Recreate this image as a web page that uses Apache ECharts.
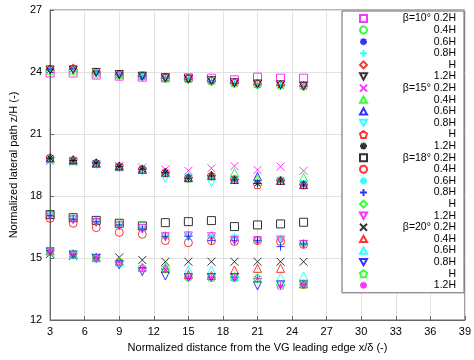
<!DOCTYPE html>
<html>
<head>
<meta charset="utf-8">
<script src="https://cdn.jsdelivr.net/npm/echarts@6/dist/echarts.min.js"></script>
<style>
  html, body { margin: 0; padding: 0; background: #fff; }
  #chart { width: 474px; height: 360px; }
</style>
</head>
<body>
<div id="chart"></div>
<script>
const xs = [3, 5, 7, 9, 11, 13, 15, 17, 19, 21, 23, 25];
const heights = ['0.2H', '0.4H', '0.6H', '0.8H', 'H', '1.2H'];
const betas = ['β=10°', 'β=15°', 'β=18°', 'β=20°'];

// beta = 10 deg
const b10_02 = [23.95, 23.95, 23.85, 23.8, 23.75, 23.72, 23.72, 23.7, 23.62, 23.75, 23.7, 23.7];
const b10_04 = [24.05, 24.05, 23.9, 23.85, 23.8, 23.68, 23.65, 23.55, 23.45, 23.4, 23.35, 23.3];
const b10_06 = [24.1, 24.15, 23.95, 23.85, 23.78, 23.7, 23.65, 23.55, 23.45, 23.38, 23.35, 23.32];
const b10_08 = [24.05, 24.1, 23.95, 23.85, 23.8, 23.7, 23.62, 23.55, 23.48, 23.4, 23.38, 23.35];
const b10_H = [24.15, 24.2, 24.0, 23.9, 23.82, 23.75, 23.68, 23.6, 23.5, 23.45, 23.4, 23.35];
const b10_12 = [24.1, 24.1, 23.98, 23.88, 23.8, 23.72, 23.66, 23.58, 23.48, 23.42, 23.38, 23.32];
// beta = 15 deg
const b15_02 = [19.7, 19.65, 19.55, 19.45, 19.38, 19.28, 19.22, 19.34, 19.45, 19.26, 19.42, 19.22];
const b15_04 = [19.8, 19.72, 19.58, 19.42, 19.28, 19.12, 18.88, 18.98, 19.13, 18.8, 18.75, 18.9];
const b15_06 = [19.85, 19.75, 19.6, 19.45, 19.3, 19.15, 18.9, 19.0, 18.8, 18.94, 18.75, 18.55];
const b15_08 = [19.78, 19.68, 19.52, 19.38, 19.2, 18.86, 18.85, 18.65, 18.78, 18.6, 18.72, 18.55];
const b15_H = [19.85, 19.75, 19.6, 19.45, 19.3, 19.15, 18.88, 18.98, 18.8, 18.55, 18.75, 18.55];
const b15_12 = [19.83, 19.72, 19.6, 19.42, 19.3, 19.13, 18.86, 18.97, 18.78, 18.61, 18.73, 18.53];
// beta = 18 deg
const b18_02 = [17.1, 16.95, 16.82, 16.68, 16.55, 16.71, 16.76, 16.81, 16.52, 16.6, 16.65, 16.73];
const b18_04 = [16.92, 16.68, 16.47, 16.24, 16.15, 15.84, 15.74, 15.84, 15.8, 15.84, 15.8, 15.66];
const b18_06 = [17.08, 16.9, 16.78, 16.62, 16.45, 16.05, 16.05, 16.08, 16.02, 15.85, 15.9, 15.7];
const b18_08 = [17.05, 16.88, 16.75, 16.6, 16.4, 16.03, 16.05, 15.84, 15.84, 15.84, 15.55, 15.68];
const b18_H = [17.1, 16.92, 16.8, 16.68, 16.55, 16.08, 16.1, 16.05, 15.9, 15.88, 15.9, 15.7];
const b18_12 = [17.05, 16.85, 16.72, 16.55, 16.42, 16.03, 16.07, 16.03, 15.86, 15.84, 15.87, 15.66];
// beta = 20 deg
const b20_02 = [15.2, 15.1, 15.02, 15.03, 14.9, 14.82, 14.82, 14.82, 14.82, 14.82, 14.82, 14.82];
const b20_04 = [15.35, 15.2, 15.05, 14.85, 14.55, 14.5, 14.2, 14.15, 14.42, 14.5, 14.5, 13.75];
const b20_06 = [15.3, 15.18, 15.0, 14.8, 14.55, 14.55, 14.42, 14.42, 14.1, 14.05, 14.07, 14.13];
const b20_08 = [15.3, 15.15, 14.98, 14.67, 14.34, 14.13, 14.05, 14.05, 14.05, 13.65, 13.7, 13.7];
const b20_H = [15.34, 15.2, 15.02, 14.82, 14.53, 14.5, 14.1, 14.07, 14.07, 14.02, 13.68, 13.73];
const b20_12 = [15.34, 15.18, 15.03, 14.8, 14.5, 14.45, 14.08, 14.05, 14.05, 14.0, 13.65, 13.72];

const values = [
  [b10_02, b10_04, b10_06, b10_08, b10_H, b10_12],
  [b15_02, b15_04, b15_06, b15_08, b15_H, b15_12],
  [b18_02, b18_04, b18_06, b18_08, b18_H, b18_12],
  [b20_02, b20_04, b20_06, b20_08, b20_H, b20_12]
];

// hollow MATLAB-like markers
const SYM = {
  square: 'path://M0,0L10,0L10,10L0,10Z',
  circle: 'circle',
  tri: 'path://M5,0L10,9L0,9Z',
  down: 'path://M0,0L10,0L5,9Z',
  diamond: 'path://M5,0L10,5L5,10L0,5Z',
  x: 'path://M0,0L10,10M10,0L0,10',
  plus: 'path://M5,0L5,10M0,5L10,5',
  star: 'path://M5,0L5,10M0,5L10,5M1.5,1.5L8.5,8.5M8.5,1.5L1.5,8.5',
  pent: 'path://M5,0L10,3.8L8.1,10L1.9,10L0,3.8Z'
};
const M = '#ff00ff', G = '#00ff00', B = '#0000ff', C = '#00ffff', R = '#ff0000', K = '#000000';
const styles = [
  [['square', M], ['circle', G], ['star', B], ['plus', C], ['diamond', R], ['down', K]],
  [['x', M], ['tri', G], ['tri', B], ['down', C], ['pent', R], ['star', K]],
  [['square', K], ['circle', R], ['star', C], ['plus', B], ['diamond', G], ['down', M]],
  [['x', K], ['tri', R], ['tri', C], ['down', B], ['pent', G], ['star', M]]
];

const series = [];
betas.forEach((b, i) => {
  heights.forEach((h, j) => {
    const st = styles[i][j];
    series.push({
      name: b + ' ' + h,
      type: 'scatter',
      symbol: SYM[st[0]],
      symbolSize: 8,
      itemStyle: { color: 'transparent', borderColor: st[1], borderWidth: 1 },
      emphasis: { disabled: true },
      data: xs.map((x, k) => [x, values[i][j][k]])
    });
  });
});

const chart = echarts.init(document.getElementById('chart'));
chart.setOption({
  animation: false,
  textStyle: { fontFamily: 'Liberation Sans, Arial, sans-serif' },
  grid: { left: 45, right: 8, top: 10, bottom: 40, show: true, borderColor: '#666', borderWidth: 1 },
  legend: {
    orient: 'vertical',
    left: 342,
    top: 11,
    itemWidth: 7,
    itemHeight: 7,
    itemGap: 0.6,
    padding: [2, 8, 2, 17],
    borderColor: '#666',
    borderWidth: 1,
    backgroundColor: '#fff',
    formatter: function (name) {
      const txt = name.indexOf('0.2H') >= 0 ? name : name.split(' ')[1];
      return '{a|' + txt + '}';
    },
    textStyle: {
      rich: { a: { width: 84, align: 'right', fontSize: 10.5, lineHeight: 11, color: '#000' } }
    }
  },
  xAxis: {
    type: 'value', min: 3, max: 39, interval: 3,
    name: 'Normalized distance from the VG leading edge x/δ (-)',
    nameLocation: 'middle', nameGap: 22,
    nameTextStyle: { fontSize: 11, color: '#000' },
    axisLine: { lineStyle: { color: '#666' } },
    axisTick: { inside: true, length: 4, lineStyle: { color: '#666' } },
    axisLabel: { fontSize: 11, color: '#000', margin: 6 },
    splitLine: { show: true, lineStyle: { color: '#e2e2e2' } }
  },
  yAxis: {
    type: 'value', min: 12, max: 27, interval: 3,
    name: 'Normalized lateral path z/H (-)',
    nameLocation: 'middle', nameGap: 29,
    nameTextStyle: { fontSize: 11, color: '#000' },
    axisLine: { show: true, lineStyle: { color: '#666' } },
    axisTick: { show: true, inside: true, length: 4, lineStyle: { color: '#666' } },
    axisLabel: { fontSize: 11, color: '#000', margin: 8 },
    splitLine: { show: true, lineStyle: { color: '#e2e2e2' } }
  },
  series: series
});
</script>
</body>
</html>
